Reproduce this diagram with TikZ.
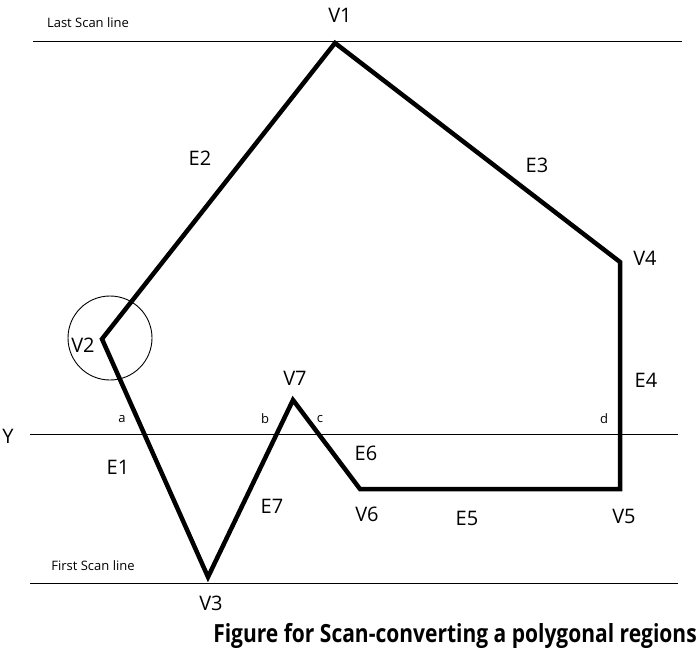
\documentclass[tikz,border=0pt]{standalone}
\usepackage{fontspec}
\setmainfont{Open Sans}
\begin{document}
\begin{tikzpicture}[x=1pt,y=-1pt,
  lbl/.style={font=\fontsize{20}{22}\selectfont},
  sm/.style={font=\fontsize{13}{15}\selectfont},
  scan/.style={line width=0.9pt},
  poly/.style={line width=4.5pt,line join=miter}]
\useasboundingbox (0,0) rectangle (700,661);
\coordinate (V1) at (335,43);
\coordinate (V4) at (620,262);
\coordinate (V5) at (620,489);
\coordinate (V6) at (360,489);
\coordinate (V7) at (293,400);
\coordinate (V3) at (208,577);
\coordinate (V2) at (102,339);
\coordinate (L1) at (33,41); \coordinate (L2) at (682,41);
\coordinate (Y1) at (30,434); \coordinate (Y2) at (678,434);
\coordinate (F1) at (30,583); \coordinate (F2) at (678,583);
\draw[scan] (L1) -- (L2);
\draw[scan] (Y1) -- (Y2);
\draw[scan] (F1) -- (F2);
\draw[poly] (V1) -- (V4) -- (V5) -- (V6) -- (V7) -- (V3) -- (V2) -- cycle;
\node[draw,circle,line width=0.9pt,minimum size=84pt,inner sep=0pt] (circ) at (110,338) {};
\node[sm] (tl) at (88,23) {Last Scan line};
\node[sm] (tf) at (93,566) {First Scan line};
\node[lbl] (n1) at (340,15) {V1};
\node[lbl] (n4) at (645,258) {V4};
\node[lbl] (n2) at (83,345) {V2};
\node[lbl] (n7) at (295,378) {V7};
\node[lbl] (n6) at (367,514) {V6};
\node[lbl] (n5) at (624,516) {V5};
\node[lbl] (n3) at (211,603) {V3};
\node[lbl] (e2) at (200,158) {E2};
\node[lbl] (e3) at (537,165) {E3};
\node[lbl] (e4) at (646,380) {E4};
\node[lbl] (e6) at (366,453) {E6};
\node[lbl] (e1) at (118,467) {E1};
\node[lbl] (e7) at (272,506) {E7};
\node[lbl] (e5) at (467,518) {E5};
\node[lbl] (y) at (8,436) {Y};
\node[sm] (a) at (122,419) {a};
\node[sm] (b) at (265,419) {b};
\node[sm] (c) at (320,419) {c};
\node[sm] (d) at (604,419) {d};
\node[inner sep=0pt,font=\fontsize{25}{27}\selectfont\bfseries] (t) at (455,636) {\scalebox{0.84}[1]{Figure for Scan-converting a polygonal regions}};
\end{tikzpicture}
\end{document}
